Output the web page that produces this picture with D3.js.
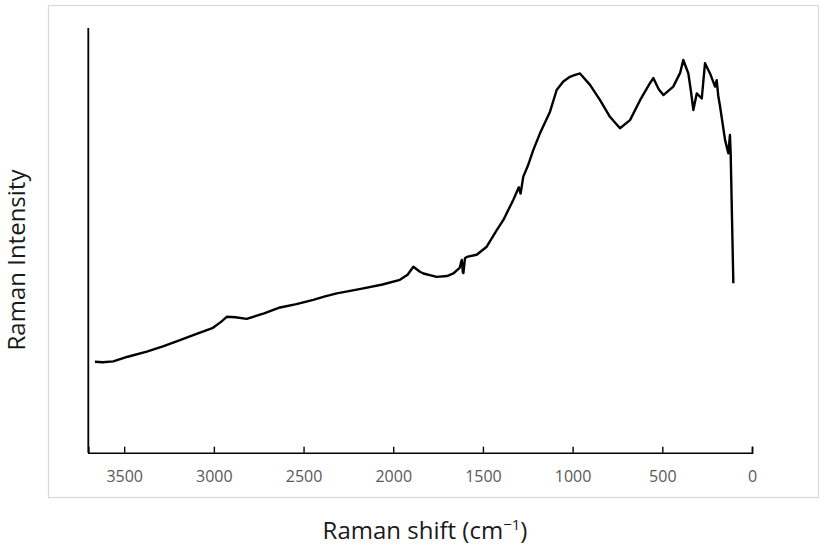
<!DOCTYPE html>
<html>
<head>
<meta charset="utf-8">
<script src="https://cdn.jsdelivr.net/npm/d3@7"></script>
<style>
  body { margin: 0; background: #fff; }
</style>
</head>
<body>
<script>
// spectre Raman : décalage (cm-1) et intensité (unités arbitraires)
const shift = [3663, 3620, 3561, 3480, 3374, 3280, 3189, 3100, 3005, 2960, 2928, 2880, 2817,
  2720, 2631, 2540, 2446, 2380, 2315, 2240, 2167, 2060, 1963, 1920, 1888, 1851, 1832, 1758,
  1700, 1665, 1630, 1618, 1612, 1609, 1600, 1590, 1535, 1479, 1423, 1386, 1331, 1300, 1290,
  1275, 1250, 1219, 1182, 1126, 1089, 1052, 1015, 990, 959, 903, 847, 792, 736, 680, 624,
  569, 550, 520, 494, 439, 400, 383, 370, 355, 340, 327, 308, 280, 262, 234, 206, 197, 188,
  178, 150, 132, 123, 119, 104];
const intensity = [21.4, 21.3, 21.5, 22.6, 23.8, 25.1, 26.5, 27.9, 29.4, 30.8, 32.0, 31.9, 31.5,
  32.8, 34.2, 35.0, 36.0, 36.8, 37.5, 38.1, 38.7, 39.6, 40.7, 41.9, 43.8, 42.6, 42.2, 41.4,
  41.6, 42.2, 43.5, 45.4, 42.5, 42.3, 45.8, 46.1, 46.6, 48.5, 52.4, 54.8, 59.5, 62.5, 61.0,
  65.0, 67.5, 71.3, 75.2, 80.3, 85.4, 87.4, 88.5, 88.9, 89.3, 86.6, 83.0, 79.1, 76.4, 78.3, 83.0,
  87.0, 88.2, 85.6, 84.2, 86.2, 89.5, 92.5, 91.0, 89.3, 85.0, 80.7, 84.6, 83.4, 91.7, 89.3,
  86.2, 87.7, 84.0, 81.5, 73.6, 70.5, 74.8, 70.6, 39.9];
const tickLabels = [3500, 3000, 2500, 2000, 1500, 1000, 500, 0];

const data = shift.map((s, i) => ({ s: s, v: intensity[i] }));

const width = 825, height = 549;
const svg = d3.select("body").append("svg")
    .attr("width", width)
    .attr("height", height);

// cadre gris clair autour du graphique
svg.append("rect")
    .attr("x", 48.5).attr("y", 5.5)
    .attr("width", 770).attr("height", 492)
    .attr("fill", "#fff")
    .attr("stroke", "#d9d9d9")
    .attr("stroke-width", 1.2);

const x = d3.scaleLinear().domain([3700, 0]).range([88.3, 752]);
const y = d3.scaleLinear().domain([0, 100]).range([452.7, 28]);

// axe des x (graduations vers le haut)
const xAxis = svg.append("g")
    .attr("transform", `translate(0,${y(0)})`)
    .call(d3.axisBottom(x)
        .tickValues(tickLabels)
        .tickSize(-6)
        .tickSizeOuter(-6)
        .tickPadding(18)
        .tickFormat(d3.format("d")));
xAxis.select(".domain").attr("stroke", "#000").attr("stroke-width", 1.6);
xAxis.selectAll(".tick line").attr("stroke", "#000").attr("stroke-width", 1.4);
xAxis.selectAll(".tick text")
    .attr("fill", "#595959")
    .style("font-family", "'Open Sans', sans-serif")
    .style("font-size", "16px");

// axe des y sans graduations
svg.append("line")
    .attr("x1", x(3700)).attr("x2", x(3700))
    .attr("y1", y(100)).attr("y2", y(0))
    .attr("stroke", "#000")
    .attr("stroke-width", 1.8);

// la courbe
const line = d3.line()
    .x(d => x(d.s))
    .y(d => y(d.v));

svg.append("path")
    .datum(data)
    .attr("d", line)
    .attr("fill", "none")
    .attr("stroke", "#000")
    .attr("stroke-width", 2.4)
    .attr("stroke-linejoin", "round");

// titres des axes
const xTitle = svg.append("text")
    .attr("x", 425).attr("y", 539)
    .attr("text-anchor", "middle")
    .attr("fill", "#1a1a1a")
    .style("font-family", "'Open Sans', sans-serif")
    .style("font-size", "24px");
xTitle.append("tspan").text("Raman shift (cm");
xTitle.append("tspan").text("\u22121").attr("dy", -9).style("font-size", "15px");
xTitle.append("tspan").text(")").attr("dy", 9);

svg.append("text")
    .attr("transform", "translate(25,260) rotate(-90)")
    .attr("text-anchor", "middle")
    .attr("fill", "#1a1a1a")
    .style("font-family", "'Open Sans', sans-serif")
    .style("font-size", "24px")
    .text("Raman Intensity");
</script>
</body>
</html>
